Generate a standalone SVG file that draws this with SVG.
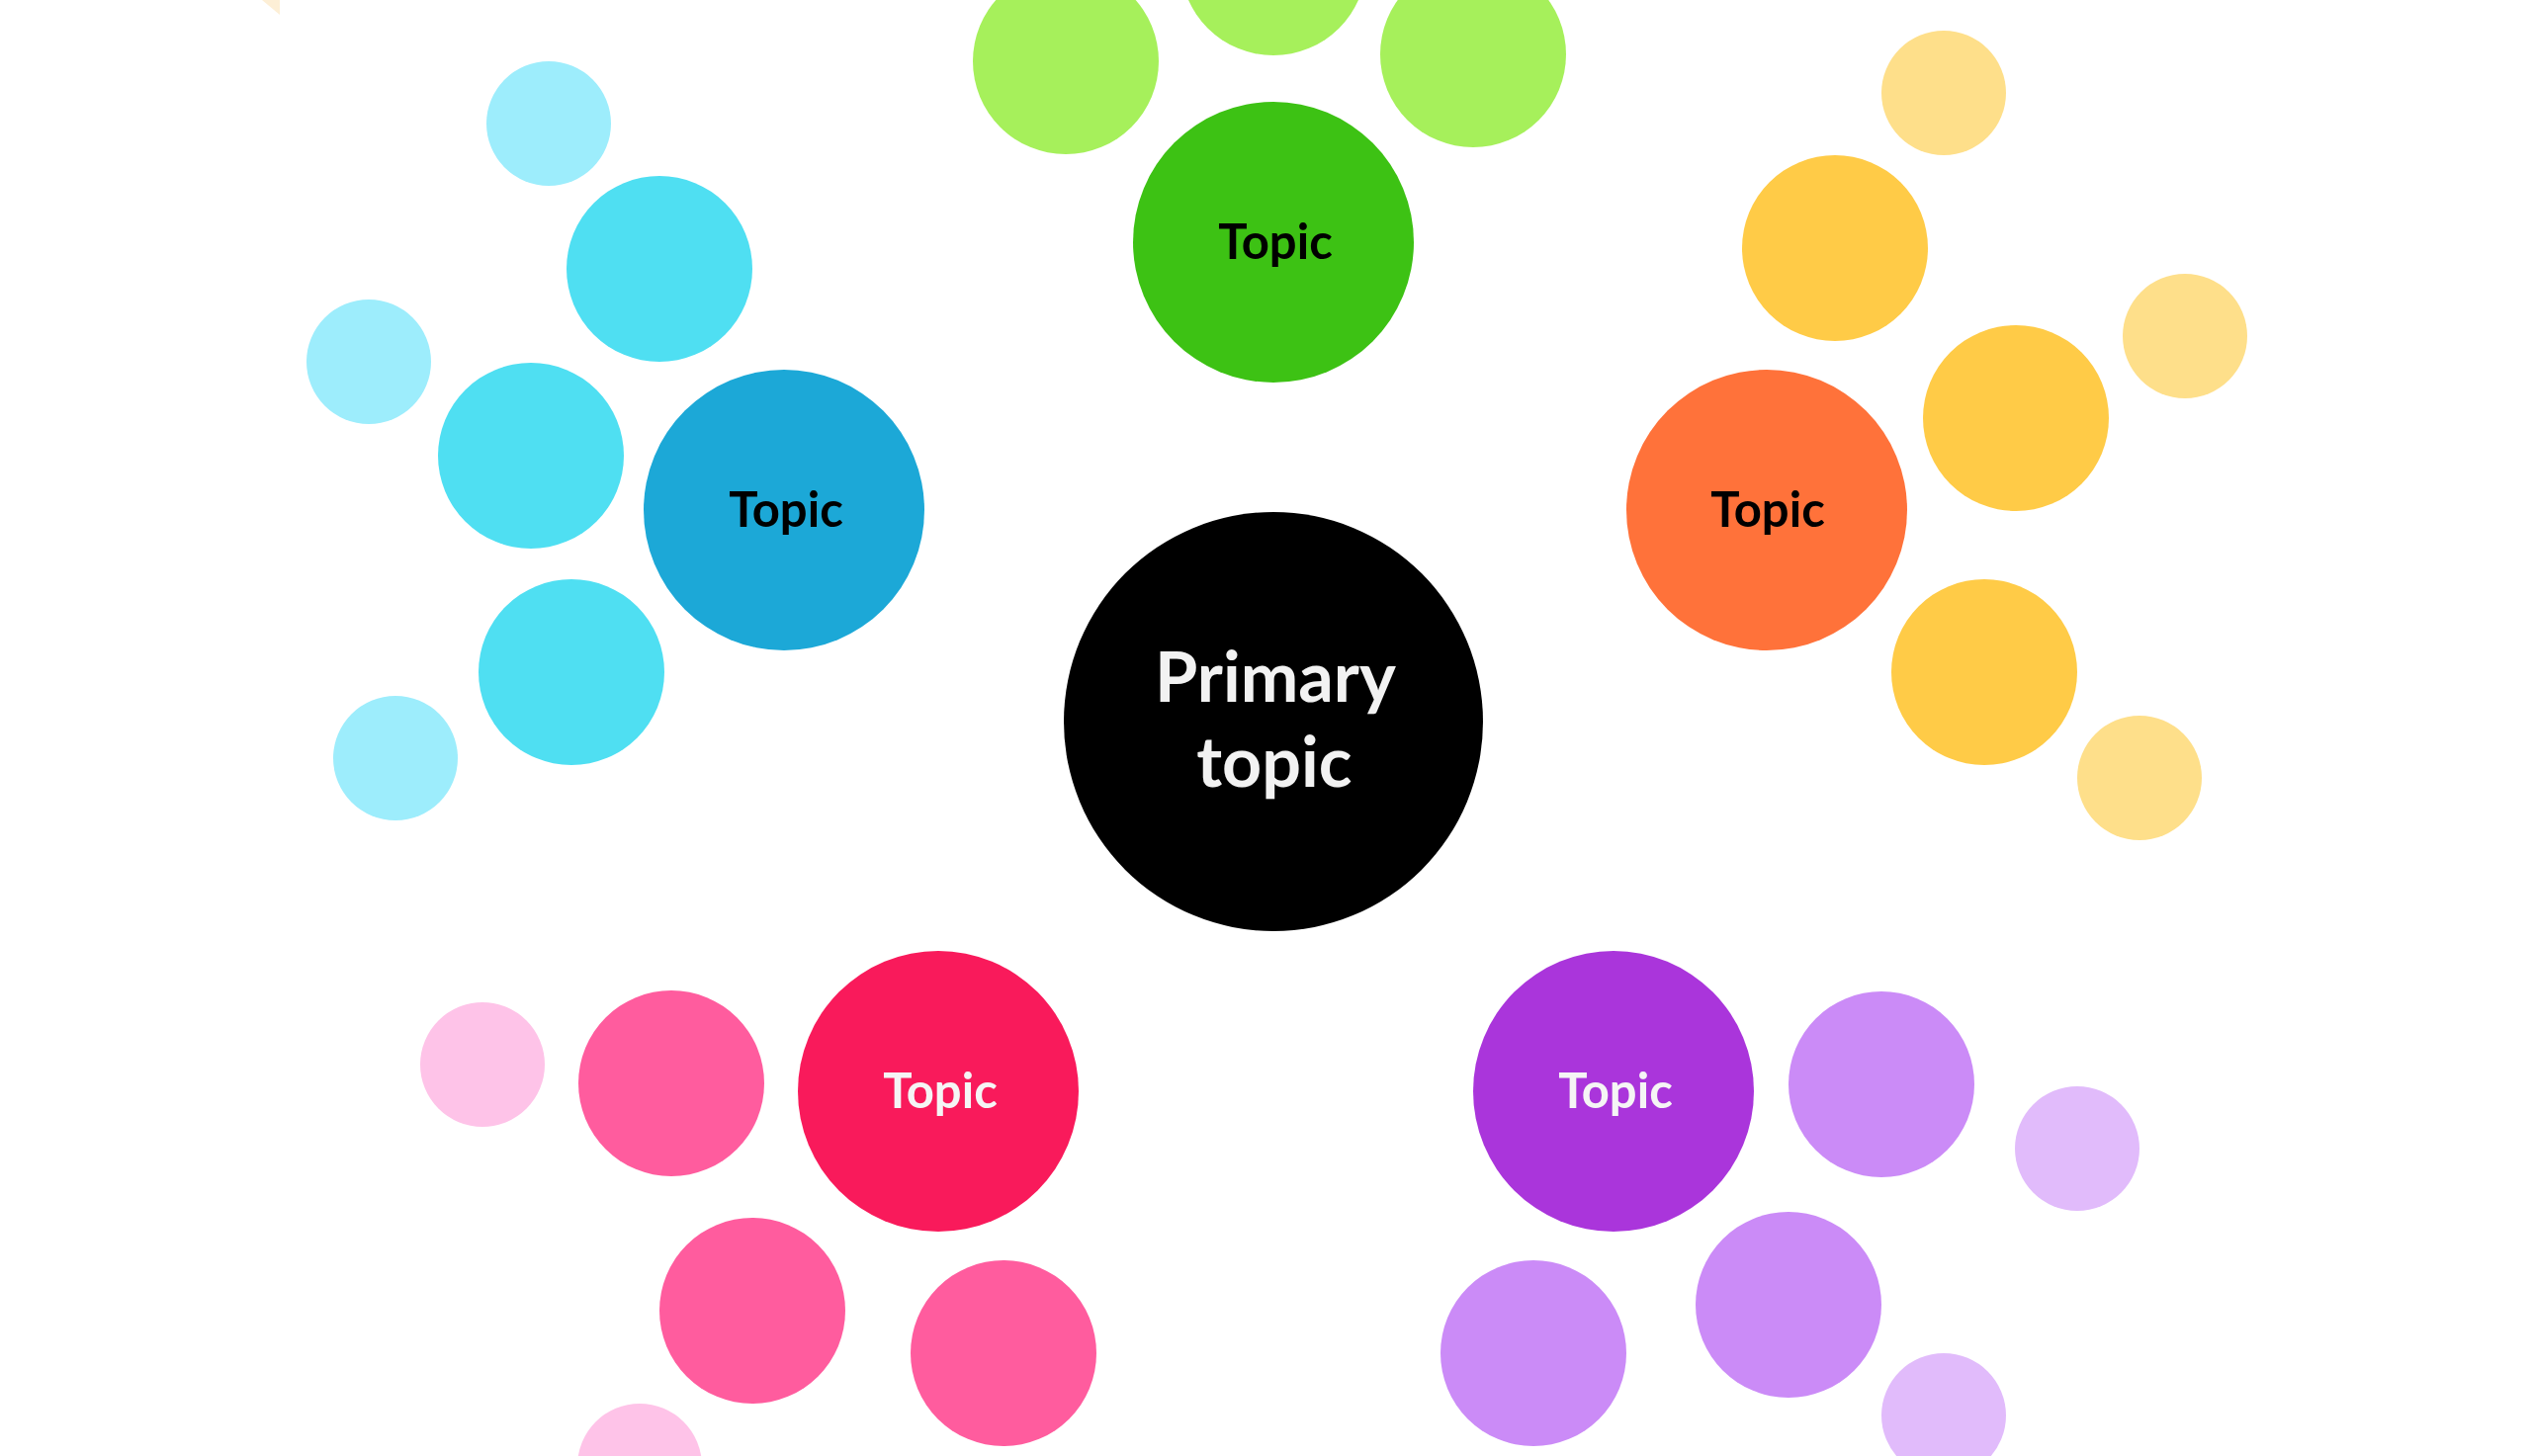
<svg xmlns="http://www.w3.org/2000/svg" width="2560" height="1473" viewBox="0 0 2560 1473">
<style>
.lbl{font-family:Lato,"Open Sans","Liberation Sans",sans-serif;font-weight:700;text-anchor:middle}
.t{font-size:49px}
.p{font-size:70px;fill:#f2f2f2}
.dark{fill:#000}
.light{fill:#f5f5f5}
.blueT{fill:#1ca8d7}.cyan{fill:#4fdff2}.cyanL{fill:#9dedfc}
.greenT{fill:#3dc214}.greenL{fill:#a6f05b}
.orangeT{fill:#ff723a}.yellow{fill:#ffcb47}.yellowL{fill:#fedf8a}
.redT{fill:#f91a5b}.pink{fill:#ff5c9e}.pinkL{fill:#fec3e8}
.purpleT{fill:#aa35db}.purple{fill:#cb8bf7}.purpleL{fill:#e1bbfb}
</style>
<rect width="2560" height="1473" fill="#fff"/>
<polygon points="265,0 283,0 283,15" fill="#fdefd6"/>

<g id="primary">
<circle cx="1288" cy="730" r="212" fill="#000"/>
<text class="lbl p" x="1290" y="710">Primary</text>
<text class="lbl p" x="1289" y="796">topic</text>
</g>

<g id="topic-blue">
<circle cx="793" cy="516" r="142" class="blueT"/>
<text class="lbl t dark" x="795" y="533">Topic</text>
</g>
<g id="blue-sub-1"><circle cx="667" cy="272" r="94" class="cyan"/></g>
<g id="blue-sub-2"><circle cx="537" cy="461" r="94" class="cyan"/></g>
<g id="blue-sub-3"><circle cx="578" cy="680" r="94" class="cyan"/></g>
<g id="blue-leaf-1"><circle cx="555" cy="125" r="63" class="cyanL"/></g>
<g id="blue-leaf-2"><circle cx="373" cy="366" r="63" class="cyanL"/></g>
<g id="blue-leaf-3"><circle cx="400" cy="767" r="63" class="cyanL"/></g>

<g id="topic-green">
<circle cx="1288" cy="245" r="142" class="greenT"/>
<text class="lbl t dark" x="1290" y="262">Topic</text>
</g>
<g id="green-sub-1"><circle cx="1078" cy="62" r="94" class="greenL"/></g>
<g id="green-sub-2"><circle cx="1288" cy="-38" r="94" class="greenL"/></g>
<g id="green-sub-3"><circle cx="1490" cy="55" r="94" class="greenL"/></g>

<g id="topic-orange">
<circle cx="1787" cy="516" r="142" class="orangeT"/>
<text class="lbl t dark" x="1788" y="533">Topic</text>
</g>
<g id="orange-sub-1"><circle cx="1856" cy="251" r="94" class="yellow"/></g>
<g id="orange-sub-2"><circle cx="2039" cy="423" r="94" class="yellow"/></g>
<g id="orange-sub-3"><circle cx="2007" cy="680" r="94" class="yellow"/></g>
<g id="orange-leaf-1"><circle cx="1966" cy="94" r="63" class="yellowL"/></g>
<g id="orange-leaf-2"><circle cx="2210" cy="340" r="63" class="yellowL"/></g>
<g id="orange-leaf-3"><circle cx="2164" cy="787" r="63" class="yellowL"/></g>

<g id="topic-red">
<circle cx="949" cy="1104" r="142" class="redT"/>
<text class="lbl t light" x="951" y="1121">Topic</text>
</g>
<g id="red-sub-1"><circle cx="679" cy="1096" r="94" class="pink"/></g>
<g id="red-sub-2"><circle cx="761" cy="1326" r="94" class="pink"/></g>
<g id="red-sub-3"><circle cx="1015" cy="1369" r="94" class="pink"/></g>
<g id="red-leaf-1"><circle cx="488" cy="1077" r="63" class="pinkL"/></g>
<g id="red-leaf-2"><circle cx="647" cy="1483" r="63" class="pinkL"/></g>

<g id="topic-purple">
<circle cx="1632" cy="1104" r="142" class="purpleT"/>
<text class="lbl t light" x="1634" y="1121">Topic</text>
</g>
<g id="purple-sub-1"><circle cx="1903" cy="1097" r="94" class="purple"/></g>
<g id="purple-sub-2"><circle cx="1809" cy="1320" r="94" class="purple"/></g>
<g id="purple-sub-3"><circle cx="1551" cy="1369" r="94" class="purple"/></g>
<g id="purple-leaf-1"><circle cx="2101" cy="1162" r="63" class="purpleL"/></g>
<g id="purple-leaf-2"><circle cx="1966" cy="1432" r="63" class="purpleL"/></g>
</svg>
